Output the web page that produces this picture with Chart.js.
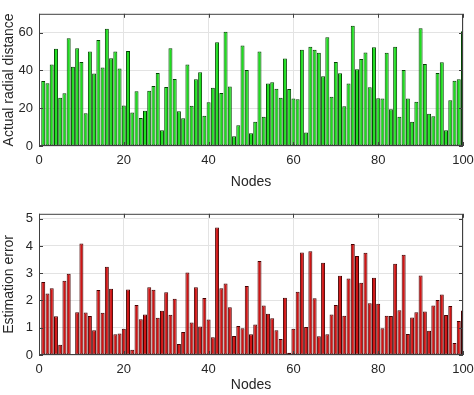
<!DOCTYPE html>
<html>
<head>
<meta charset="utf-8">
<script src="https://cdn.jsdelivr.net/npm/chart.js@4"></script>
<style>
  body { margin: 0; background: #fff; }
  canvas { position: absolute; left: 0; }
  #top-chart { top: 0; }
  #bottom-chart { top: 200px; }
</style>
</head>
<body>
<canvas id="top-chart" width="474" height="200"></canvas>
<canvas id="bottom-chart" width="474" height="195"></canvas>
<script>
// Node indices 1..100
const nodes = Array.from({ length: 100 }, (_, i) => i + 1);

// Actual radial distance per node
const distance = [
  34.4, 33.2, 43.1, 51.5, 25.5, 27.9, 57.1, 41.9, 51.8, 44.5,
  17.3, 50.0, 38.4, 56.1, 41.6, 62.1, 46.5, 50.0, 41.1, 21.5,
  50.3, 17.7, 29.0, 14.8, 18.7, 29.2, 31.8, 38.7, 8.4, 31.3,
  51.8, 35.5, 18.4, 14.7, 43.1, 21.3, 35.3, 39.0, 16.0, 23.2,
  30.8, 55.0, 28.1, 60.5, 31.5, 5.2, 11.0, 53.2, 40.2, 6.8,
  12.9, 50.0, 15.5, 33.1, 33.7, 30.3, 25.6, 46.3, 30.2, 25.2,
  24.7, 51.0, 7.1, 52.6, 51.0, 49.4, 36.9, 57.6, 26.1, 44.5,
  38.5, 21.1, 33.1, 63.7, 40.6, 46.1, 49.5, 31.1, 52.3, 25.3,
  25.2, 49.4, 19.4, 52.6, 15.5, 40.2, 25.2, 12.9, 23.4, 62.3,
  43.4, 17.1, 15.8, 38.7, 44.4, 8.4, 24.2, 34.5, 35.3, 60.8
];

// Estimation error per node
const errors = [
  2.68, 2.26, 2.45, 1.42, 0.38, 2.72, 2.98, 0.02, 1.57, 4.09,
  1.56, 1.43, 0.91, 2.38, 1.55, 3.24, 2.43, 0.76, 0.79, 0.96,
  2.40, 0.19, 1.83, 1.31, 1.49, 2.49, 2.39, 1.37, 1.62, 2.30,
  1.48, 2.06, 0.40, 0.84, 3.03, 1.19, 2.49, 1.05, 2.09, 1.30,
  0.65, 4.68, 2.45, 2.62, 1.75, 0.70, 1.06, 0.98, 2.53, 0.76,
  1.12, 3.45, 1.82, 1.51, 1.35, 0.91, 0.59, 2.10, 0.08, 0.96,
  2.32, 3.76, 1.03, 3.81, 2.08, 0.69, 3.38, 0.76, 1.49, 1.83,
  2.91, 1.44, 2.81, 4.07, 3.63, 2.65, 3.75, 1.90, 2.83, 1.88,
  0.98, 1.44, 1.43, 3.35, 1.64, 3.68, 0.77, 1.38, 1.57, 2.92,
  1.60, 0.89, 1.82, 2.02, 2.22, 1.47, 1.80, 0.44, 1.25, 1.63
];

// Tick labels
const xTicks = [0, 20, 40, 60, 80, 100];
const distanceTicks = [0, 20, 40, 60];
const errorTicks = [0, 1, 2, 3, 4, 5];

const textColor = "#262626";
const gridColor = "#e3e3e3";
const fontFamily = "'Liberation Sans', Arial, sans-serif";

// Draws the axes box and small inward tick marks, like a MATLAB axes
const boxPlugin = {
  id: "box",
  afterDraw(chart) {
    const { ctx, chartArea: a, scales } = chart;
    ctx.save();
    ctx.strokeStyle = "#404040";
    ctx.lineWidth = 1;
    ctx.strokeRect(a.left + 0.5, a.top + 0.5, a.right - a.left - 1, a.bottom - a.top - 1);
    ctx.beginPath();
    scales.x.ticks.forEach(t => {
      const px = Math.round(scales.x.getPixelForValue(t.value)) + 0.5;
      ctx.moveTo(px, a.bottom); ctx.lineTo(px, a.bottom - 4);
      ctx.moveTo(px, a.top); ctx.lineTo(px, a.top + 4);
    });
    scales.y.ticks.forEach(t => {
      const py = Math.round(scales.y.getPixelForValue(t.value)) + 0.5;
      ctx.moveTo(a.left, py); ctx.lineTo(a.left + 4, py);
      ctx.moveTo(a.right, py); ctx.lineTo(a.right - 4, py);
    });
    ctx.stroke();
    ctx.restore();
  }
};

function makeChart(canvasId, values, opts) {
  const points = nodes.map((n, i) => ({ x: n, y: values[i] }));
  return new Chart(document.getElementById(canvasId), {
    type: "bar",
    data: {
      datasets: [{
        data: points,
        backgroundColor: opts.fill,
        borderColor: opts.edge,
        borderWidth: 1,
        borderSkipped: false,
        barPercentage: 0.94,
        categoryPercentage: 1
      }]
    },
    options: {
      responsive: false,
      animation: false,
      devicePixelRatio: 1,
      layout: { padding: { top: opts.padTop, right: 0, left: 0, bottom: 0 } },
      plugins: { legend: { display: false }, tooltip: { enabled: false } },
      scales: {
        x: {
          type: "linear",
          min: 0,
          max: 100,
          offset: false,
          grid: { color: gridColor, drawTicks: false, offset: false },
          border: { display: false },
          afterBuildTicks: s => { s.ticks = xTicks.map(v => ({ value: v })); },
          afterFit: s => { s.height = opts.xHeight; s.paddingRight = 11; },
          ticks: { color: textColor, padding: 7, font: { family: fontFamily, size: 13 }, maxRotation: 0 },
          title: {
            display: true,
            text: "Nodes",
            color: textColor,
            font: { family: fontFamily, size: 14 },
            padding: { top: 0, bottom: opts.titlePad }
          }
        },
        y: {
          min: 0,
          max: opts.yMax,
          grid: { color: gridColor, drawTicks: false },
          border: { display: false },
          afterBuildTicks: s => { s.ticks = opts.yTicks.map(v => ({ value: v })); },
          afterFit: s => { s.width = 39; },
          ticks: { color: textColor, padding: 6, font: { family: fontFamily, size: 13 } },
          title: {
            display: true,
            text: opts.yTitle,
            color: textColor,
            font: { family: fontFamily, size: 14 },
            padding: { top: 1, bottom: 0 }
          }
        }
      }
    },
    plugins: [boxPlugin]
  });
}

makeChart("top-chart", distance, {
  fill: "rgb(30, 222, 30)",
  edge: "rgb(0, 70, 0)",
  yMax: 70,
  yTicks: distanceTicks,
  yTitle: "Actual radial distance",
  padTop: 1,
  xHeight: 54,
  titlePad: 9
});

makeChart("bottom-chart", errors, {
  fill: "rgb(208, 20, 20)",
  edge: "rgb(70, 0, 0)",
  yMax: 5.18,
  yTicks: errorTicks,
  yTitle: "Estimation error",
  padTop: 10,
  xHeight: 40,
  titlePad: 1
});
</script>
</body>
</html>
